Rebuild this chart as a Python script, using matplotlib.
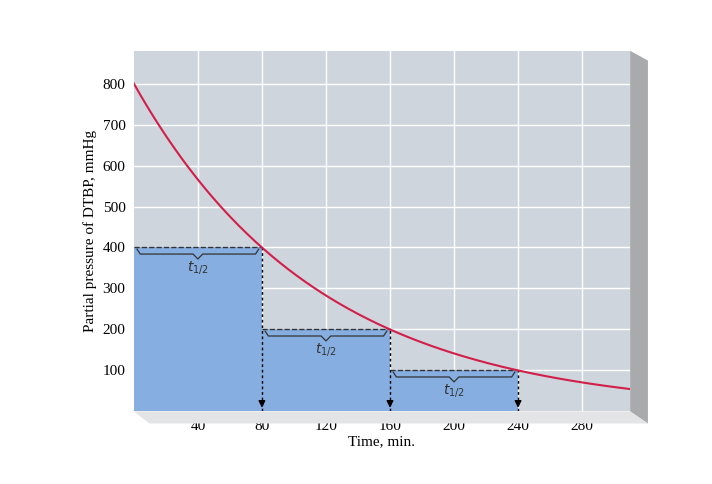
import numpy as np
import matplotlib.pyplot as plt
from matplotlib.patches import Polygon, Rectangle

p0 = 800
half_life = 80
half_times = [0, 80, 160, 240]
half_pressures = [400, 200, 100]
xticks = [40, 80, 120, 160, 200, 240, 280]
yticks = [100, 200, 300, 400, 500, 600, 700, 800]

fig = plt.figure(figsize=(7.12, 4.84), dpi=100)
ax = fig.add_axes([0.188, 0.15, 0.697, 0.745])
# 3D frame
fig.patches.append(Polygon([[0.885, 0.15], [0.885, 0.895], [0.91, 0.875], [0.91, 0.125]],
                           closed=True, transform=fig.transFigure, facecolor='#a9aaac', edgecolor='none', zorder=0))
fig.patches.append(Polygon([[0.188, 0.15], [0.885, 0.15], [0.91, 0.125], [0.21, 0.125]],
                           closed=True, transform=fig.transFigure, facecolor='#e3e4e6', edgecolor='none', zorder=0))

ax.set_facecolor('#cfd5dc')
ax.set_xlim(0, 310)
ax.set_ylim(0, 880)
for x in xticks:
    ax.axvline(x, color='white', lw=1, zorder=1)
for y in yticks:
    ax.axhline(y, color='white', lw=1, zorder=1)

for i, p in enumerate(half_pressures):
    x0, x1 = half_times[i], half_times[i + 1]
    ax.add_patch(Rectangle((x0, 0), x1 - x0, p, facecolor='#86aee0', edgecolor='none', zorder=2))
    ax.plot([x0, x1], [p, p], ls='--', color='#333333', lw=1, zorder=3)
    ax.plot([x1, x1], [0, p], ls=(0, (2, 2)), color='black', lw=1, zorder=3)
    ax.annotate('', xy=(x1, 2), xytext=(x1, 25),
                arrowprops=dict(arrowstyle='-|>', color='black', lw=1), zorder=4)
    # brace
    yb = p - 4
    xm = (x0 + x1) / 2
    bx = [x0 + 2, x0 + 4, xm - 3, xm, xm + 3, x1 - 4, x1 - 2]
    by = [yb, yb - 12, yb - 12, yb - 24, yb - 12, yb - 12, yb]
    ax.plot(bx, by, color='#333333', lw=0.9, zorder=4)
    ax.text(xm, yb - 45, r'$t_{1/2}$', ha='center', va='center', fontsize=10, color='#333333', zorder=5)

t = np.linspace(0, 310, 300)
ax.plot(t, p0 * 0.5 ** (t / half_life), color='#d11f4a', lw=1.5, zorder=5)

ax.set_xticks(xticks)
ax.set_yticks(yticks)
ax.tick_params(length=0, labelsize=11, pad=6)
for lab in ax.get_xticklabels() + ax.get_yticklabels():
    lab.set_family('Liberation Serif')
for s in ax.spines.values():
    s.set_visible(False)
ax.set_xlabel('Time, min.', family='Liberation Serif', fontsize=11, labelpad=2)
ax.set_ylabel('Partial pressure of DTBP, mmHg', family='Liberation Serif', fontsize=11)
fig.savefig('out.png', dpi=100)
